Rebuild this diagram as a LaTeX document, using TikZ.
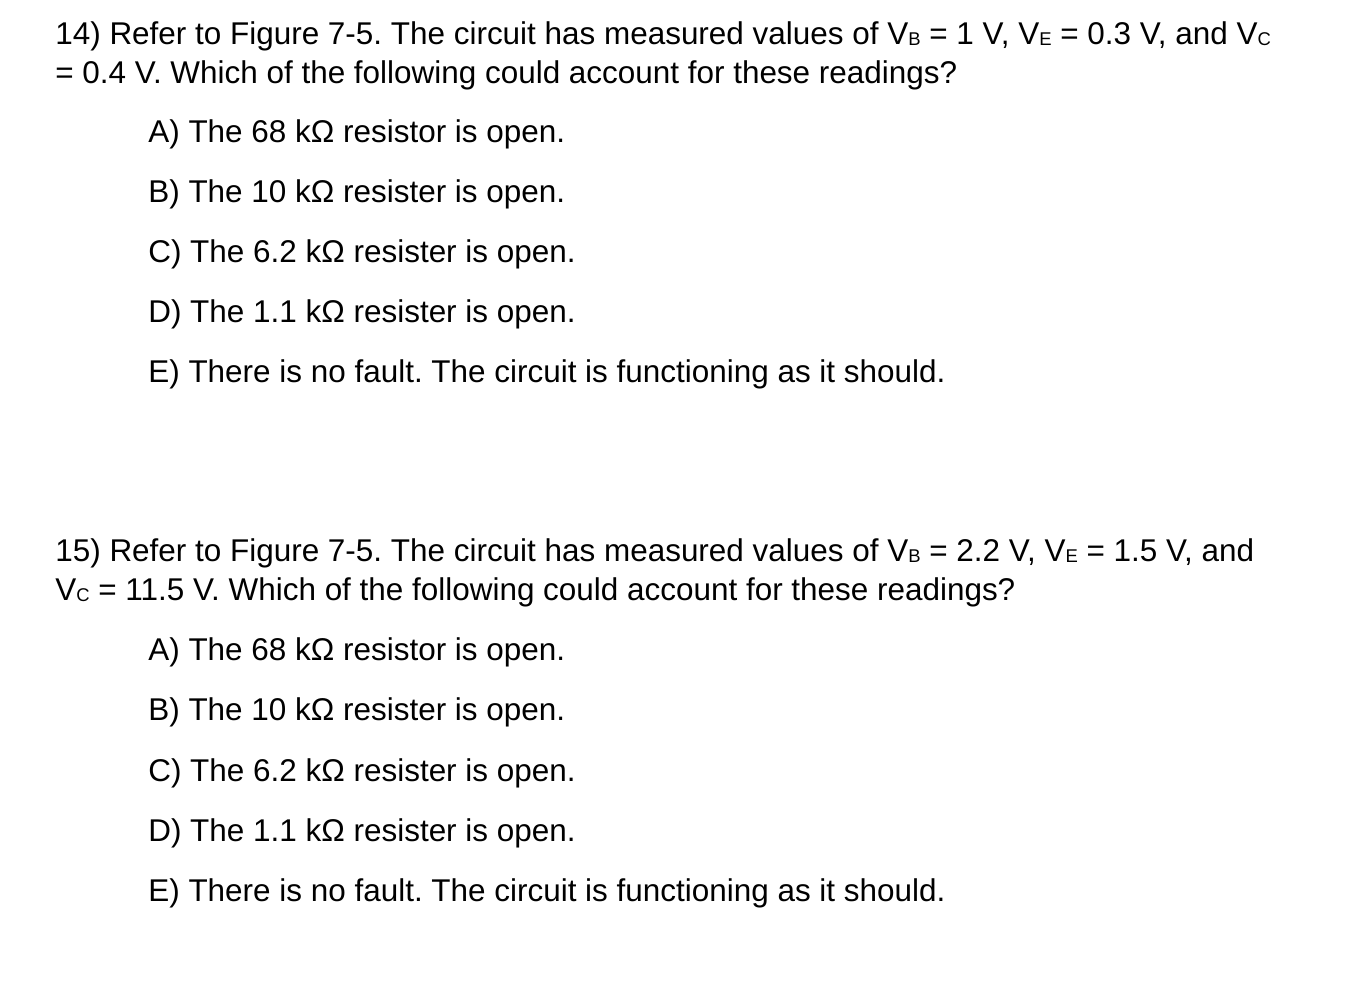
\documentclass[tikz,border=0pt]{standalone}
\usepackage{fontspec}
\setmainfont{Liberation Sans}
\frenchspacing
\newcommand{\lowsub}[1]{\raisebox{-0.5pt}{\fontsize{10.5}{10}\selectfont #1}}
\begin{document}
\begin{tikzpicture}[x=0.02cm, y=-0.02cm,
    question/.style={anchor=base west, inner sep=0pt, font=\fontsize{17.9}{20}\selectfont},
    choice/.style={question}]
  \useasboundingbox (0,0) rectangle (1363,996);
  % question 14
  \node (qa1) [question] at (55,45) {14) Refer to Figure 7-5. The circuit has measured values of V\lowsub{B} = 1 V, V\lowsub{E} = 0.3 V, and V\lowsub{C}};
  \node (qa2) [question] at (55,84) {= 0.4 V. Which of the following could account for these readings?};
  \node (a1) [choice] at (148,143) {A) The 68 kΩ resistor is open.};
  \node (b1) [choice] at (148,203) {B) The 10 kΩ resister is open.};
  \node (c1) [choice] at (148,263) {C) The 6.2 kΩ resister is open.};
  \node (d1) [choice] at (148,323) {D) The 1.1 kΩ resister is open.};
  \node (e1) [choice] at (148,383) {E) There is no fault. The circuit is functioning as it should.};
  % question 15
  \node (qb1) [question] at (55,562) {15) Refer to Figure 7-5. The circuit has measured values of V\lowsub{B} = 2.2 V, V\lowsub{E} = 1.5 V, and};
  \node (qb2) [question] at (55,601) {V\lowsub{C} = 11.5 V. Which of the following could account for these readings?};
  \node (a2) [choice] at (148,661) {A) The 68 kΩ resistor is open.};
  \node (b2) [choice] at (148,721) {B) The 10 kΩ resister is open.};
  \node (c2) [choice] at (148,781) {C) The 6.2 kΩ resister is open.};
  \node (d2) [choice] at (148,841) {D) The 1.1 kΩ resister is open.};
  \node (e2) [choice] at (148,901) {E) There is no fault. The circuit is functioning as it should.};
\end{tikzpicture}
\end{document}
